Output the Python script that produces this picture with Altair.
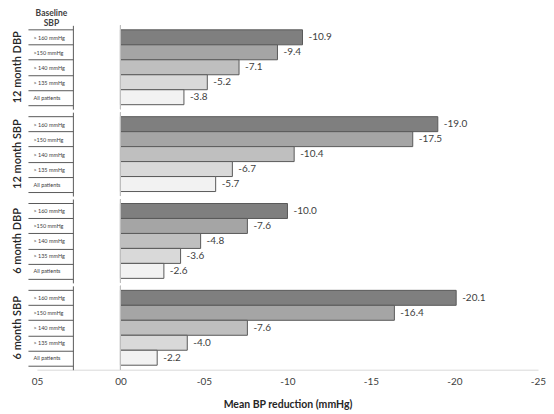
import altair as alt
import pandas as pd

groups = ["12 month DBP", "12 month SBP", "6 month DBP", "6 month SBP"]
categories = ["> 160 mmHg", ">150 mmHg", "> 140 mmHg", "> 135 mmHg", "All patients"]
bar_colors = ["#7f7f7f", "#a5a5a5", "#bfbfbf", "#d9d9d9", "#f2f2f2"]

dbp_12m = [-10.9, -9.4, -7.1, -5.2, -3.8]
sbp_12m = [-19.0, -17.5, -10.4, -6.7, -5.7]
dbp_6m = [-10.0, -7.6, -4.8, -3.6, -2.6]
sbp_6m = [-20.1, -16.4, -7.6, -4.0, -2.2]

x_ticks = [5, 0, -5, -10, -15, -20, -25]

FONT = "Lato"


def group_panel(name, values, bottom=False):
    df = pd.DataFrame({"category": categories, "value": values})
    # plain hyphen like the original, not d3's unicode minus
    df["label"] = [f"{v:.1f}" for v in values]
    base = alt.Chart(df)
    if bottom:
        x_axis = alt.Axis(
            values=x_ticks,
            labelExpr="(datum.value < 0 ? '-' : '') + format(abs(datum.value), '02d')",
            title="Mean BP reduction (mmHg)",
            titleFont=FONT,
            titleFontSize=10.5,
            titleFontWeight="bold",
            titleColor="#262626",
            titlePadding=13,
            ticks=False,
            domainColor="#d9d9d9",
            labelFont=FONT,
            labelFontSize=10,
            labelColor="#404040",
            labelPadding=7,
            labelFlush=False,
        )
    else:
        x_axis = None
    x_scale = alt.Scale(domain=[-25, 5], reverse=True, nice=False)
    x = alt.X("value:Q", scale=x_scale, axis=x_axis)
    y = alt.Y(
        "category:N",
        sort=categories,
        scale=alt.Scale(paddingInner=0, paddingOuter=0.3),
        axis=alt.Axis(
            title=None,
            offset=-36,
            tickSize=45,
            tickBand="extent",
            tickColor="#595959",
            domainColor="#595959",
            labelAlign="left",
            labelPadding=-5,
            labelBaseline="middle",
            labelFont=FONT,
            labelFontSize=5.5,
            labelColor="#404040",
        ),
    )
    bars = base.mark_bar(stroke="#595959", strokeWidth=1).encode(
        x=x,
        y=y,
        color=alt.Color(
            "category:N",
            scale=alt.Scale(domain=categories, range=bar_colors),
            legend=None,
        ),
    )
    zero = base.mark_rule(color="#bfbfbf", strokeWidth=1).encode(
        x=alt.XDatum(0, scale=x_scale, axis=x_axis)
    )
    labels = base.mark_text(
        align="left", dx=6, font=FONT, fontSize=10, color="#404040"
    ).encode(x=x, y=y, text="label:N")
    return alt.layer(bars, zero, labels).properties(
        width=502,
        height=84,
        title=alt.TitleParams(
            name,
            orient="left",
            anchor="middle",
            frame="group",
            font=FONT,
            fontSize=11,
            fontWeight=600,
            color="#262626",
            offset=4,
        ),
    )


panels = [
    group_panel(groups[0], dbp_12m),
    group_panel(groups[1], sbp_12m),
    group_panel(groups[2], dbp_6m),
    group_panel(groups[3], sbp_6m, bottom=True),
]

chart = (
    alt.vconcat(*panels, spacing=0)
    .properties(
        title=alt.TitleParams(
            ["Baseline", "SBP"],
            anchor="start",
            align="center",
            dx=39,
            font=FONT,
            fontSize=8.5,
            fontWeight="bold",
            color="#404040",
            lineHeight=10,
            offset=-4,
        ),
        padding={"left": 4, "top": 0, "right": 0, "bottom": 0},
    )
    .configure_view(stroke=None)
    .configure_axis(grid=False)
)

chart.save("out.html", embed_options={"renderer": "svg", "actions": False})
